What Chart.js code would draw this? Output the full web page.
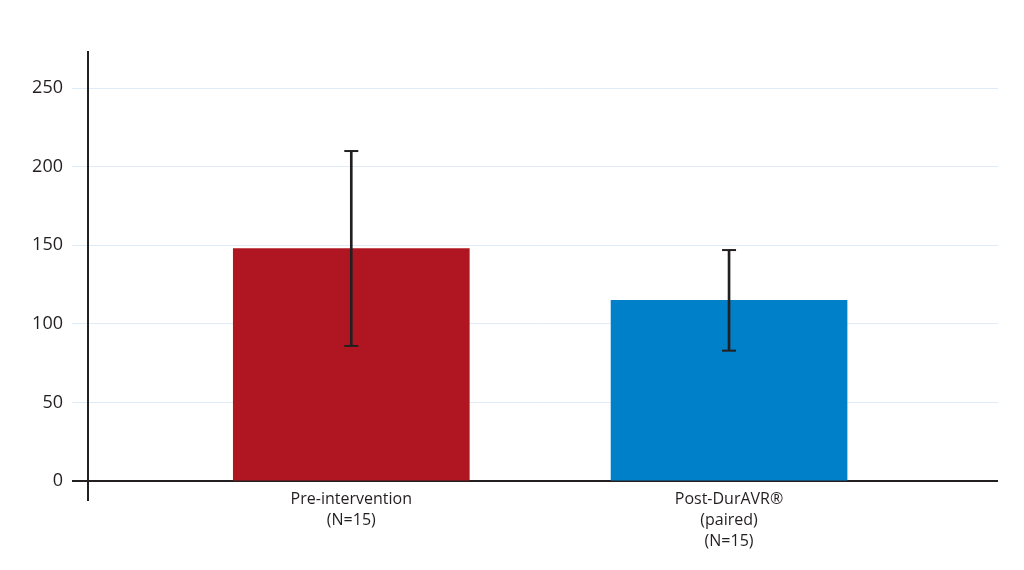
<!DOCTYPE html>
<html>
<head>
<meta charset="utf-8">
<script src="https://cdn.jsdelivr.net/npm/chart.js@4"></script>
<style>
html,body{margin:0;padding:0;background:#fff;}
#wrap{width:1024px;height:570px;position:relative;}
</style>
</head>
<body>
<div id="wrap"><canvas id="c" width="1024" height="570"></canvas></div>
<script>
const categories = [["Pre-intervention", "(N=15)"], ["Post-DurAVR\u00AE", "(paired)", "(N=15)"]];
const positions = [1, 2];
const means = [148, 115];
const errLow = [86, 83];
const errHigh = [210, 147];
const barColors = ["#AF1622", "#0080C8"];
const yTicks = [0, 50, 100, 150, 200, 250];

const ink = "#231f20";
const gridBlue = "#dfecf8";

const mainData = positions.map((x, i) => ({x: x, y: means[i]}));
const stemData = positions.map((x, i) => ({x: x, y: [errLow[i], errHigh[i]]}));
const capData = [];
positions.forEach((x, i) => { capData.push({x: x, y: errLow[i]}); capData.push({x: x, y: errHigh[i]}); });

new Chart(document.getElementById("c"), {
  type: "bar",
  data: {
    datasets: [
      {type: "scatter", data: capData, pointStyle: "line", pointRadius: 7, pointHoverRadius: 7,
       borderColor: ink, borderWidth: 2, order: 0},
      {type: "bar", data: stemData, backgroundColor: ink, barThickness: 2, grouped: false, order: 1},
      {type: "bar", data: mainData, backgroundColor: barColors, barThickness: 236, grouped: false, order: 2}
    ]
  },
  options: {
    responsive: false,
    animation: false,
    layout: {padding: {top: 52, right: 26, left: 0, bottom: 0}},
    plugins: {legend: {display: false}, tooltip: {enabled: false}},
    scales: {
      x: {
        type: "linear",
        offset: false,
        bounds: "data",
        min: 0.303,
        max: 2.712,
        grid: {display: false, offset: false},
        border: {display: false},
        afterBuildTicks: (s) => { s.ticks = positions.map(v => ({value: v})); },
        afterFit: (s) => { s.height = 70; },
        ticks: {
          autoSkip: false,
          maxRotation: 0,
          mirror: true,
          padding: -9.5,
          color: ink,
          font: {family: "'Open Sans', sans-serif", size: 16, lineHeight: "21px"},
          callback: (v) => { const i = positions.indexOf(v); return i >= 0 ? categories[i] : ""; }
        }
      },
      y: {
        type: "linear",
        min: -12,
        max: 273,
        afterBuildTicks: (s) => { s.ticks = yTicks.map(v => ({value: v})); },
        afterFit: (s) => { s.width = 88; },
        border: {display: true, color: ink, width: 2},
        grid: {
          drawTicks: true,
          tickLength: 16,
          color: (c) => (c.tick && c.tick.value === 0) ? ink : gridBlue,
          lineWidth: (c) => (c.tick && c.tick.value === 0) ? 2 : 1
        },
        ticks: {
          padding: 9,
          color: ink,
          font: {family: "'Open Sans', sans-serif", size: 18}
        }
      }
    }
  }
});
</script>
</body>
</html>
